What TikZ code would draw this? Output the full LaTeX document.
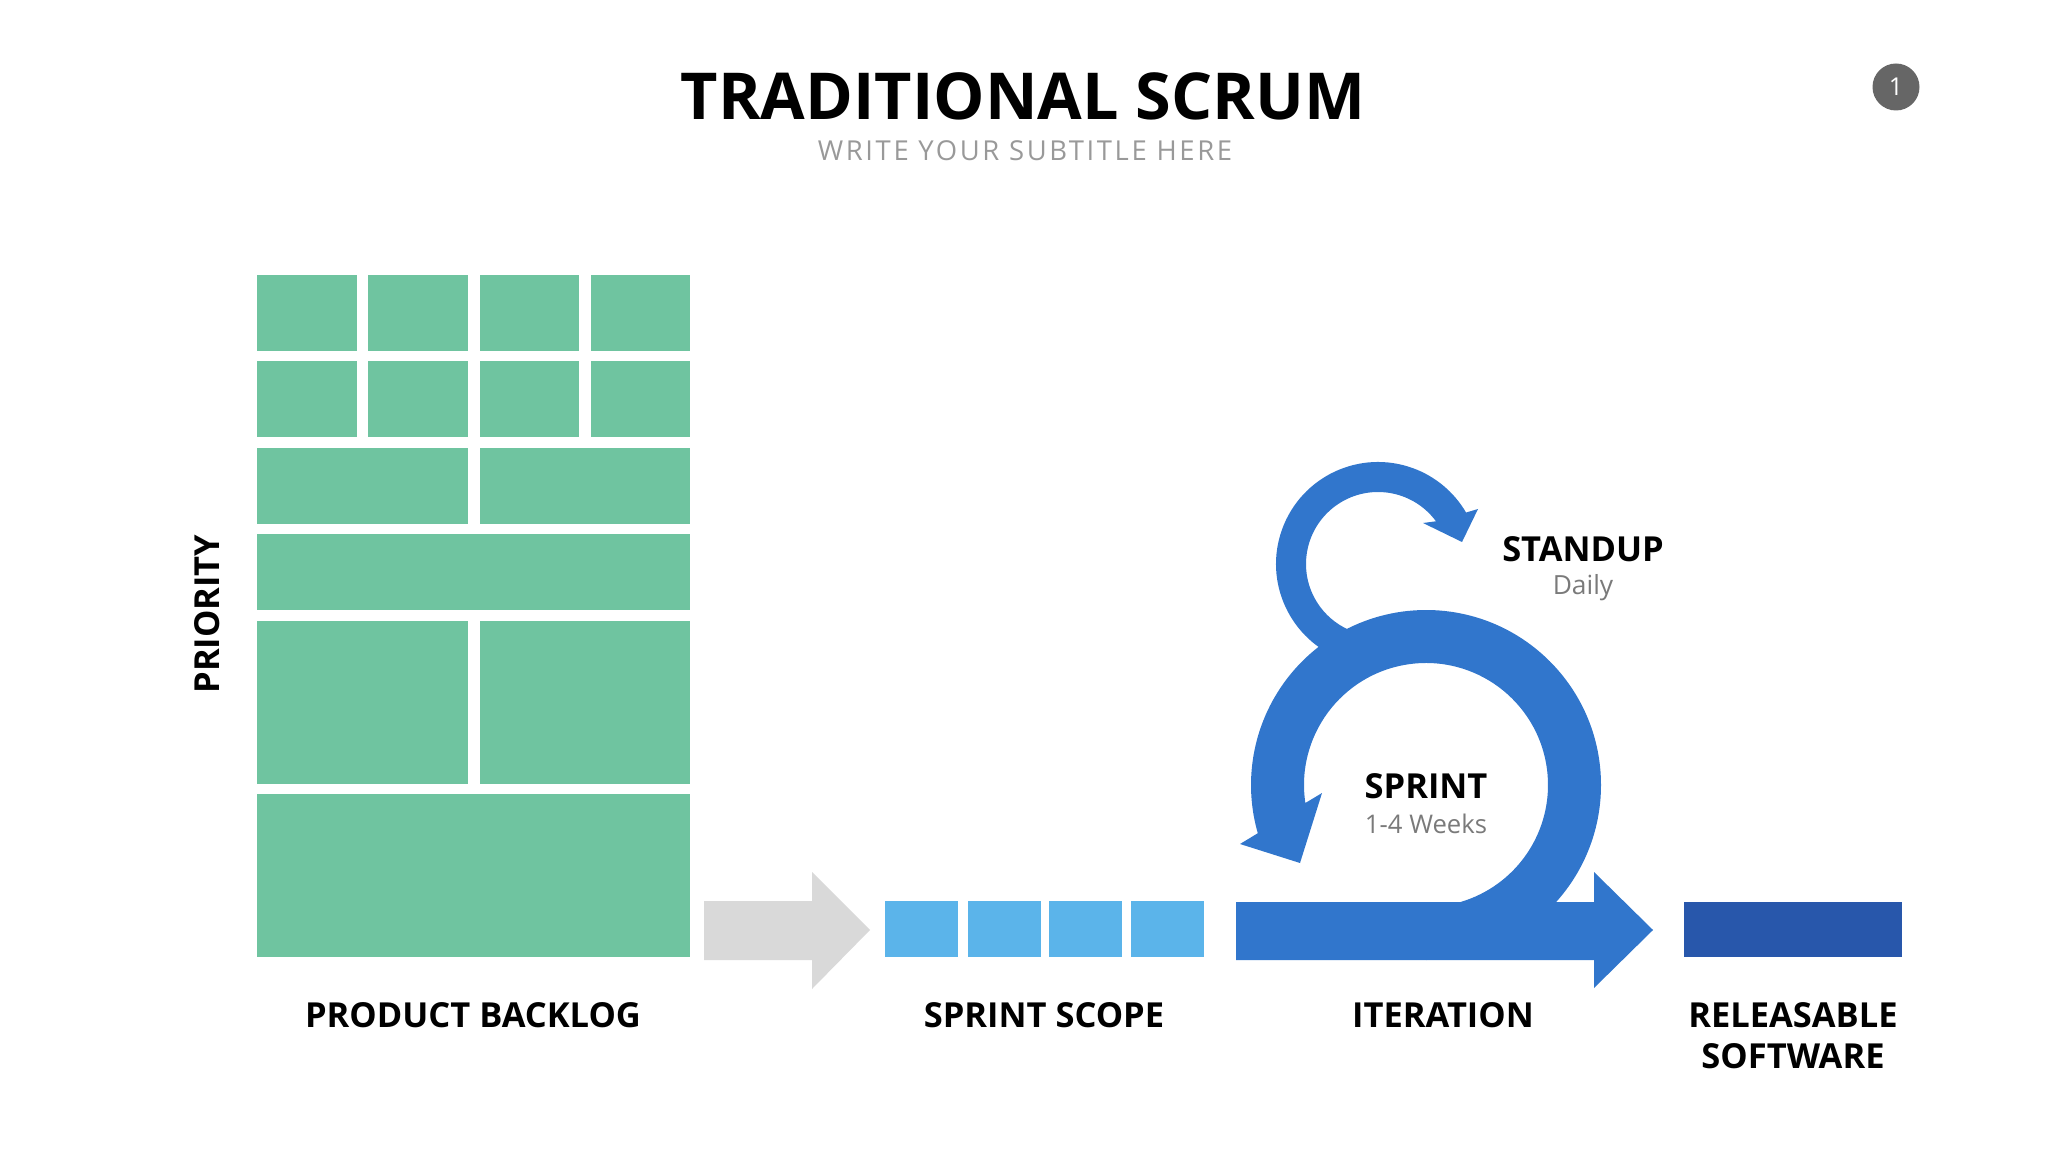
\documentclass[tikz,border=0pt]{standalone}
\usepackage{fontspec}
\setmainfont{Open Sans}
\newfontfamily\spacedfont[LetterSpace=9.5]{Open Sans}
\definecolor{backlog}{RGB}{111,196,160}
\definecolor{scope}{RGB}{91,180,234}
\definecolor{loopblue}{RGB}{49,118,204}
\definecolor{release}{RGB}{40,87,171}
\definecolor{handgrey}{RGB}{217,217,217}
\tikzset{
  lbl/.style={font=\fontsize{9.8}{11.5}\selectfont\bfseries, anchor=base},
  sublbl/.style={font=\fontsize{7.5}{9}\selectfont, text=black!52, anchor=base}
}
\begin{document}
\begin{tikzpicture}[x=0.01cm, y=-0.01cm]
    \useasboundingbox (0,0) rectangle (2048,1152);

    % Title
    \node[font=\fontsize{18.4}{22}\selectfont\bfseries, anchor=base] (title) at (1023,120) {TRADITIONAL SCRUM};
    \node[font=\fontsize{7.8}{10}\selectfont\spacedfont, text=black!40, anchor=base] (subtitle) at (1025,161) {WRITE YOUR SUBTITLE HERE};
    \fill[black!60] (1896,87) circle (23.5);
    \node[font=\fontsize{7}{8}\selectfont, text=white] (badge) at (1896,87) {1};

    % Product backlog
    \foreach \xa/\ya/\xb/\yb in {257/275/356.5/351, 368.3/275/467.8/351, 479.7/275/579.2/351, 591/275/690/351,
                                  257/361.5/356.5/437.5, 368.3/361.5/467.8/437.5, 479.7/361.5/579.2/437.5, 591/361.5/690/437.5,
                                  257/448/467.8/524, 479.7/448/690/524,
                                  257/534.5/690/610.5,
                                  257/621/467.8/783.5, 479.7/621/690/783.5,
                                  257/794/690/956.5}
      \fill[backlog] (\xa,\ya) rectangle (\xb,\yb);
    \node[lbl, rotate=90] (priority) at (219,614) {PRIORITY};

    % Hand over
    \fill[handgrey] (704,901) -- (812,901) -- (812,872) -- (870,930) -- (812,989) -- (812,960) -- (704,960) -- cycle;

    % Sprint scope
    \foreach \x in {885, 967.5, 1049, 1131}
      \fill[scope] (\x,901) rectangle +(73,56);

    % Iteration
    \fill[loopblue] (1236,902) -- (1594,902) -- (1594,872) -- (1653,930) -- (1594,988) -- (1594,960) -- (1236,960) -- cycle;
    \fill[loopblue] ([shift={(1378,564)}]110:102) arc[start angle=110, end angle=329.7, radius=102]
      -- (1478,509) -- (1462,542) -- (1423,523)
      -- ([shift={(1378,564)}]323.6:72) arc[start angle=323.6, end angle=110, radius=72] -- cycle;
    \fill[loopblue] ([shift={(1426,785)}]90:175) arc[start angle=90, end angle=-196, radius=175]
      -- (1240,844) -- (1300,863) -- (1322,793)
      -- ([shift={(1426,785)}]-188.5:122) arc[start angle=-188.5, end angle=90, radius=122] -- cycle;

    % Release
    \fill[release] (1684,902) rectangle (1902,957);

    % Labels
    \node[lbl] (standup) at (1583,561) {STANDUP};
    \node[sublbl] (daily) at (1583,594) {Daily};
    \node[lbl] (sprint) at (1426,798) {SPRINT};
    \node[sublbl, font=\fontsize{7.3}{9}\selectfont] (weeks) at (1426,833) {1-4 Weeks};
    \node[lbl] (backlogtxt) at (473,1027) {PRODUCT BACKLOG};
    \node[lbl] (scopetxt) at (1044,1027) {SPRINT SCOPE};
    \node[lbl] (iteration) at (1443,1027) {ITERATION};
    \node[lbl, align=center] (releasetxt) at (1793,1068) {RELEASABLE\\SOFTWARE};
  \end{tikzpicture}
\end{document}
